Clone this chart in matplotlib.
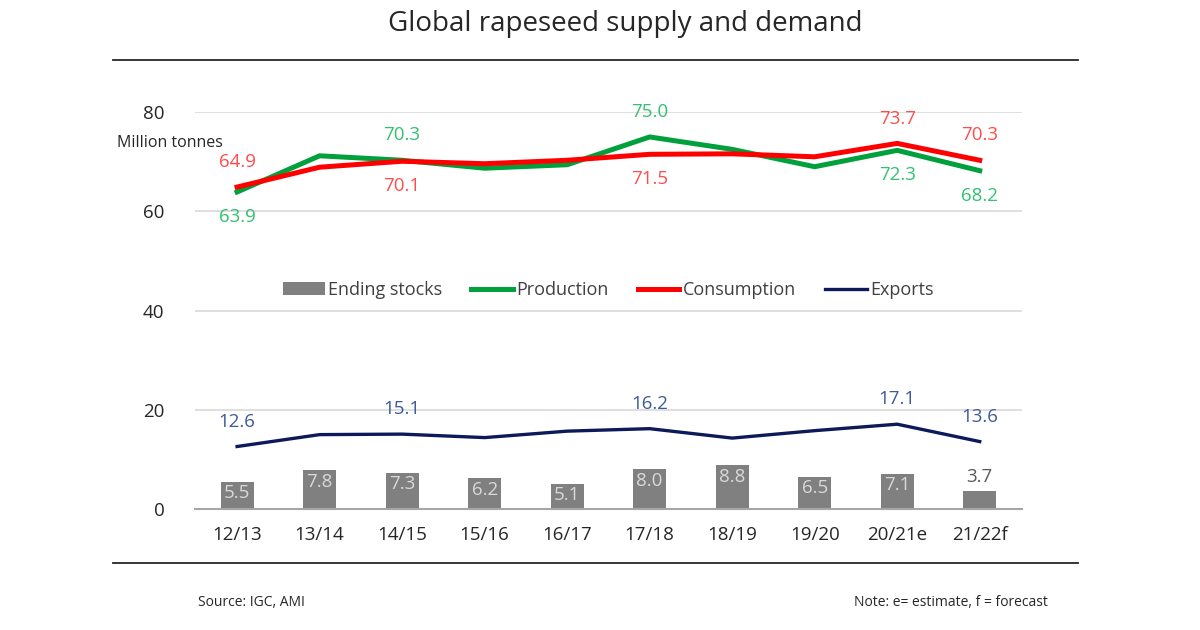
import matplotlib.pyplot as plt
import numpy as np

plt.rcParams["font.family"] = ["Open Sans", "DejaVu Sans"]

seasons = ["12/13", "13/14", "14/15", "15/16", "16/17", "17/18", "18/19", "19/20", "20/21e", "21/22f"]
ending_stocks = [5.5, 7.8, 7.3, 6.2, 5.1, 8.0, 8.8, 6.5, 7.1, 3.7]
production = [63.9, 71.2, 70.3, 68.7, 69.4, 75.0, 72.5, 69.0, 72.3, 68.2]
consumption = [64.9, 68.9, 70.1, 69.6, 70.3, 71.5, 71.6, 71.0, 73.7, 70.3]
exports = [12.6, 15.0, 15.1, 14.4, 15.7, 16.2, 14.3, 15.8, 17.1, 13.6]

# which points get a value label, and where (1 = above, -1 = below)
prod_labels = {0: -1, 2: 1, 5: 1, 8: -1, 9: -1}
cons_labels = {0: 1, 2: -1, 5: -1, 8: 1, 9: 1}
exp_labels = [0, 2, 5, 8, 9]

c_bar = "#808080"
c_prod = "#00a03c"
c_cons = "#ff0000"
c_exp = "#0c1a5a"

fig = plt.figure(figsize=(12, 6.3), dpi=100)
ax = fig.add_axes([0.1625, 0.192, 0.689, 0.630])

x = np.arange(len(seasons))

bars = ax.bar(x, ending_stocks, width=0.4, color=c_bar, label="Ending stocks", zorder=2)
l_prod, = ax.plot(x, production, color=c_prod, lw=3.6, label="Production", zorder=3)
l_cons, = ax.plot(x, consumption, color=c_cons, lw=3.6, label="Consumption", zorder=4)
l_exp, = ax.plot(x, exports, color=c_exp, lw=2.4, label="Exports", zorder=3)

for i, v in enumerate(ending_stocks):
    if v < 5:
        ax.text(i, v + 1.0, f"{v:.1f}", ha="center", va="bottom", fontsize=13.5, color="#595959")
    else:
        ax.text(i, v - 0.5, f"{v:.1f}", ha="center", va="top", fontsize=13.5, color="#d9d9d9", zorder=5)

for i, d in prod_labels.items():
    ax.text(i, production[i] + d * 3.2, f"{production[i]:.1f}", ha="center",
            va="bottom" if d > 0 else "top", fontsize=13.5, color="#33c070")
for i, d in cons_labels.items():
    ax.text(i, consumption[i] + d * 3.2, f"{consumption[i]:.1f}", ha="center",
            va="bottom" if d > 0 else "top", fontsize=13.5, color="#ff4d4d")
for i in exp_labels:
    ax.text(i, exports[i] + 3.2, f"{exports[i]:.1f}", ha="center", va="bottom",
            fontsize=13.5, color="#3d5a99")

ax.set_xlim(-0.51, 9.51)
ax.set_ylim(0, 80)
ax.set_yticks([0, 20, 40, 60, 80])
ax.set_xticks(x)
ax.set_xticklabels(seasons)
ax.tick_params(length=0, labelsize=13.5, colors="#262626")
ax.tick_params(axis="y", pad=22)
ax.tick_params(axis="x", pad=12)
ax.grid(axis="y", color="#d9d9d9", lw=1.2, zorder=0)
ax.set_axisbelow(True)
for s in ["top", "right", "left"]:
    ax.spines[s].set_visible(False)
ax.spines["bottom"].set_color("#a6a6a6")
ax.spines["bottom"].set_linewidth(1.5)

ax.text(-1.46, 73.8, "Million tonnes", ha="left", va="center", fontsize=11.5, color="#262626")

ax.legend([bars, l_prod, l_cons, l_exp], ["Ending stocks", "Production", "Consumption", "Exports"],
          loc="center", bbox_to_anchor=(0.5, 0.552), ncol=4, frameon=False,
          fontsize=13, handlelength=2.3, columnspacing=1.6, handletextpad=0.2,
          labelcolor="#404040")

fig.text(0.521, 0.962, "Global rapeseed supply and demand", ha="center", va="center",
         fontsize=20, color="#262626")
fig.add_artist(plt.Line2D([0.094, 0.898], [0.905, 0.905], color="#262626", lw=1.3))
fig.add_artist(plt.Line2D([0.094, 0.898], [0.106, 0.106], color="#262626", lw=1.3))
fig.text(0.165, 0.043, "Source: IGC, AMI", ha="left", va="center", fontsize=10, color="#262626")
fig.text(0.873, 0.043, "Note: e= estimate, f = forecast", ha="right", va="center",
         fontsize=10, color="#262626")

fig.savefig("out.png", dpi=100, facecolor="white")
